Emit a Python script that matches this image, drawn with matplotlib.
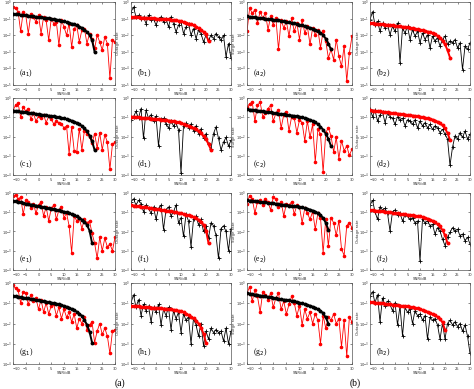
import numpy as np
import matplotlib
matplotlib.use("Agg")
import matplotlib.pyplot as plt
from matplotlib.ticker import LogLocator, LogFormatterMathtext, FixedLocator

# ---------------- data (log10 values) ----------------
snr = list(range(-10, 31))          # SNR/dB for the simulated (noisy) series
xticks = [-10, -5, 0, 5, 10, 15, 20, 25, 30]

# group (a), column 1: red noisy simulation + black theory
a1_sim = [-0.28,-0.38,-0.58,-1.77,-0.6,-0.8,-1.9,-0.7,-0.9,-1.2,-0.8,-1.9,-0.9,-1.1,-2.3,-1.0,-1.3,-1.2,-2.6,-1.1,
          -1.5,-2.0,-1.3,-2.7,-1.6,-1.4,-2.4,-1.7,-1.6,-2.5,-1.9,-2.2,-2.8,-2.0,-2.4,-2.9,-2.1,-2.5,-4.6,-2.3,-2.4]
a1_th = [-0.71,-0.73,-0.75,-0.77,-0.79,-0.81,-0.83,-0.85,-0.87,-0.89,-0.91,-0.93,-0.95,-0.97,-0.99,-1.01,-1.03,
         -1.06,-1.09,-1.13,-1.17,-1.21,-1.25,-1.30,-1.35,-1.41,-1.48,-1.56,-1.67,-1.80,-1.98,-2.30,-3.00]
c1_sim = [-0.65,-0.37,-0.28,-1.0,-0.45,-0.7,-0.55,-1.1,-0.8,-1.2,-0.95,-1.05,-0.87,-1.28,-0.95,-1.1,-1.35,-1.2,-1.28,
          -1.35,-1.55,-1.45,-2.9,-1.5,-2.75,-2.8,-1.6,-2.7,-1.7,-1.85,-2.0,-2.35,-1.85,-2.6,-1.8,-2.7,-1.9,-2.3,-3.7,
          -2.4,-2.3]
c1_th = [-0.65,-0.67,-0.69,-0.71,-0.72,-0.74,-0.76,-0.78,-0.80,-0.82,-0.84,-0.86,-0.88,-0.90,-0.92,-0.94,-0.96,
         -0.98,-1.00,-1.03,-1.06,-1.10,-1.14,-1.18,-1.23,-1.29,-1.36,-1.45,-1.57,-1.72,-1.95,-2.25,-2.70]
e1_sim = [-0.13,-0.1,-0.3,-0.22,-1.1,-0.38,-0.46,-0.8,-0.55,-1.05,-0.63,-0.46,-1.2,-0.72,-1.45,-0.8,-0.63,-1.37,
          -0.88,-0.72,-1.28,-1.05,-1.7,-3.1,-1.2,-1.45,-1.3,-1.85,-1.37,-1.55,-1.45,-2.1,-2.6,-3.4,-2.3,-3.0,-2.35,
          -2.8,-2.65,-3.0,-2.3]
e1_th = [-0.41,-0.44,-0.47,-0.49,-0.52,-0.55,-0.57,-0.60,-0.63,-0.65,-0.68,-0.71,-0.73,-0.76,-0.79,-0.81,-0.84,
         -0.87,-0.90,-0.93,-0.97,-1.01,-1.05,-1.10,-1.15,-1.21,-1.29,-1.38,-1.49,-1.66,-1.95,-2.60]
g1_sim = [-0.11,-0.27,-0.35,-0.98,-0.43,-0.5,-1.06,-0.58,-0.9,-0.74,-1.3,-0.82,-1.45,-0.98,-1.53,-1.13,-1.06,-1.61,
          -1.2,-1.76,-1.3,-1.69,-1.45,-1.92,-1.53,-2.23,-1.76,-2.0,-1.69,-2.3,-2.07,-1.92,-2.94,-2.38,-2.0,-2.54,
          -2.23,-2.62,-3.48,-2.38,-2.3]
g1_th = [-0.63,-0.65,-0.67,-0.70,-0.72,-0.74,-0.76,-0.79,-0.81,-0.83,-0.85,-0.88,-0.90,-0.92,-0.95,-0.97,-0.99,
         -1.02,-1.05,-1.09,-1.13,-1.17,-1.22,-1.28,-1.34,-1.42,-1.51,-1.63,-1.84,-2.05,-2.40,-2.94]

# group (a), column 2: black noisy simulation + red theory
b1_sim = [-0.6,-0.3,-0.9,-0.8,-1.0,-0.9,-1.3,-0.8,-1.1,-1.0,-1.4,-1.0,-0.9,-1.2,-1.0,-1.5,-0.9,-1.3,-1.8,-1.4,
          -1.2,-1.9,-1.5,-1.3,-2.0,-1.6,-2.2,-1.7,-1.9,-2.4,-2.0,-2.3,-2.0,-2.2,-1.9,-2.1,-2.3,-2.0,-3.3,-2.5,-3.4]
b1_th = [-0.90,-0.91,-0.92,-0.93,-0.94,-0.95,-0.96,-0.97,-0.98,-0.99,-1.00,-1.01,-1.02,-1.03,-1.04,-1.05,-1.06,
         -1.08,-1.10,-1.13,-1.17,-1.21,-1.25,-1.30,-1.35,-1.41,-1.48,-1.57,-1.67,-1.80,-1.95,-2.36]
d1_sim = [-1.15,-0.97,-0.7,-1.05,-0.55,-2.1,-0.63,-1.05,-0.87,-1.2,-0.95,-2.5,-1.1,-1.05,-1.35,-1.55,-1.2,-1.45,
          -1.3,-1.65,-3.9,-1.45,-1.3,-1.55,-1.35,-1.7,-1.45,-1.85,-1.6,-2.1,-1.85,-2.4,-2.65,-1.85,-1.5,-2.1,-2.7,
          -2.3,-2.05,-2.5,-2.2]
d1_th = [-0.97,-0.98,-0.99,-1.00,-1.02,-1.03,-1.04,-1.05,-1.07,-1.08,-1.09,-1.10,-1.12,-1.13,-1.15,-1.17,-1.19,
         -1.21,-1.23,-1.27,-1.31,-1.35,-1.40,-1.45,-1.50,-1.56,-1.63,-1.72,-1.83,-1.97,-2.15,-2.40,-2.70]
f1_sim = [-0.46,-0.3,-0.63,-0.38,-0.55,-0.97,-0.63,-0.8,-1.05,-0.72,-1.37,-0.8,-0.63,-1.9,-0.88,-0.72,-1.2,-0.97,
          -0.63,-1.55,-1.28,-2.25,-1.1,-1.45,-2.8,-1.37,-1.2,-1.65,-1.37,-2.0,-1.7,-2.35,-1.55,-1.7,-2.2,-3.4,-1.85,
          -1.7,-2.0,-3.0,-1.85]
f1_th = [-0.63,-0.65,-0.67,-0.69,-0.71,-0.73,-0.75,-0.77,-0.79,-0.81,-0.83,-0.85,-0.87,-0.89,-0.91,-0.93,-0.95,
         -0.98,-1.00,-1.03,-1.06,-1.09,-1.12,-1.16,-1.20,-1.25,-1.31,-1.39,-1.49,-1.65,-1.95,-2.60]
h1_sim = [-0.98,-0.58,-1.2,-0.82,-1.61,-1.06,-1.37,-1.13,-1.92,-1.2,-1.45,-1.06,-2.07,-1.3,-1.61,-1.2,-2.3,-1.37,
          -1.76,-1.45,-2.45,-1.53,-1.84,-1.69,-3.0,-1.76,-2.07,-2.62,-2.0,-3.1,-2.38,-2.77,-2.23,-2.45,-2.3,-2.45,
          -2.38,-2.86,-2.23,-3.0,-2.38]
h1_th = [-1.13,-1.14,-1.15,-1.16,-1.17,-1.18,-1.19,-1.20,-1.21,-1.22,-1.23,-1.24,-1.25,-1.26,-1.27,-1.28,-1.30,
         -1.32,-1.34,-1.37,-1.40,-1.45,-1.51,-1.58,-1.66,-1.75,-1.86,-2.00,-2.20,-2.50,-2.94]

# group (b), column 3: red noisy simulation + black theory
a2_sim = [-1.77,-0.38,-0.67,-0.48,-1.27,-0.58,-0.97,-0.67,-1.67,-0.87,-1.37,-0.97,-2.86,-1.07,-1.57,-1.17,-2.06,
          -0.97,-1.77,-1.27,-2.26,-1.07,-1.87,-1.47,-2.56,-1.57,-1.97,-1.67,-2.76,-1.77,-2.36,-3.37,-2.86,-3.47,
          -2.26,-3.27,-3.87,-2.66,-4.76,-3.07,-2.06]
a2_th = [-0.87,-0.89,-0.91,-0.93,-0.95,-0.97,-0.99,-1.01,-1.03,-1.05,-1.07,-1.09,-1.11,-1.14,-1.17,-1.20,-1.23,
         -1.26,-1.29,-1.33,-1.37,-1.41,-1.45,-1.50,-1.55,-1.61,-1.68,-1.76,-1.86,-2.00,-2.20,-2.50,-2.86]
c2_sim = [-0.46,-0.3,-0.22,-1.2,-0.38,-0.22,-0.97,-0.8,-0.55,-0.38,-1.2,-0.8,-0.63,-1.55,-0.88,-0.72,-1.72,-0.97,
          -1.05,-1.8,-1.13,-1.28,-2.22,-1.2,-2.05,-1.37,-3.33,-1.63,-1.88,-3.85,-1.8,-1.55,-1.97,-2.8,-2.05,-3.15,
          -2.22,-2.73,-2.5,-2.98,-2.65]
c2_th = [-0.58,-0.60,-0.62,-0.63,-0.65,-0.67,-0.69,-0.71,-0.73,-0.75,-0.77,-0.79,-0.81,-0.83,-0.85,-0.87,-0.89,
         -0.91,-0.93,-0.95,-0.97,-1.00,-1.04,-1.08,-1.13,-1.19,-1.26,-1.36,-1.49,-1.65,-1.85,-2.12,-2.50]
e2_sim = [-0.55,-0.13,-0.3,-1.05,-0.46,-0.38,-0.63,-0.3,-0.46,-0.88,-0.22,-0.3,-0.72,-0.46,-1.2,-0.55,-0.63,-0.46,
          -1.1,-0.63,-0.72,-1.55,-0.8,-1.05,-1.37,-0.97,-1.88,-1.05,-1.28,-3.1,-1.37,-2.75,-1.28,-1.55,-2.2,-1.45,
          -2.9,-3.25,-1.7,-1.55,-1.8]
e2_th = [-0.37,-0.39,-0.40,-0.42,-0.44,-0.46,-0.47,-0.49,-0.51,-0.53,-0.54,-0.56,-0.58,-0.60,-0.61,-0.63,-0.65,
         -0.66,-0.68,-0.70,-0.72,-0.75,-0.78,-0.82,-0.86,-0.91,-0.97,-1.04,-1.14,-1.30,-1.55,-1.90]
g2_sim = [-0.5,-0.19,-0.9,-0.35,-0.66,-1.45,-0.43,-0.58,-0.82,-0.5,-1.2,-0.74,-0.5,-1.3,-0.9,-1.53,-1.06,-0.66,
          -0.98,-1.61,-1.13,-2.07,-1.3,-1.76,-1.45,-2.0,-1.53,-1.84,-3.0,-1.61,-2.23,-1.69,-1.84,-1.53,-2.0,-1.76,
          -3.15,-1.84,-3.62,-1.69,-1.92]
g2_th = [-0.50,-0.52,-0.55,-0.57,-0.59,-0.62,-0.64,-0.66,-0.69,-0.71,-0.73,-0.75,-0.78,-0.80,-0.82,-0.84,-0.86,
         -0.88,-0.90,-0.93,-0.97,-1.00,-1.04,-1.08,-1.12,-1.17,-1.23,-1.29,-1.37,-1.50,-1.70,-2.00]

# group (b), column 4: black noisy simulation + red theory
b2_sim = [-1.07,-0.58,-1.37,-1.17,-1.77,-1.27,-1.57,-1.37,-1.97,-1.47,-1.77,-1.27,-3.67,-1.57,-1.87,-1.47,-2.26,
          -1.67,-2.06,-1.77,-2.46,-1.87,-2.26,-1.97,-2.76,-2.06,-2.36,-2.16,-2.66,-2.26,-2.06,-2.56,-2.36,-2.46,
          -2.26,-2.76,-2.46,-4.07,-2.66,-2.86,-2.46]
b2_th = [-1.27,-1.28,-1.30,-1.31,-1.33,-1.34,-1.36,-1.37,-1.39,-1.41,-1.43,-1.45,-1.47,-1.49,-1.51,-1.53,-1.55,
         -1.58,-1.61,-1.64,-1.67,-1.70,-1.74,-1.78,-1.83,-1.88,-1.94,-2.04,-2.16,-2.32,-2.55,-2.90,-3.35]
d2_sim = [-0.55,-0.97,-0.63,-1.2,-0.88,-0.72,-1.28,-0.8,-0.97,-1.05,-1.37,-0.97,-1.13,-1.05,-1.45,-1.13,-1.2,-1.37,
          -1.13,-1.55,-1.2,-1.45,-1.28,-1.55,-1.37,-1.63,-1.45,-1.55,-1.8,-1.63,-1.88,-2.13,-3.5,-2.56,-1.97,-2.13,
          -1.8,-2.05,-1.72,-2.13,-1.88]
d2_th = [-0.63,-0.65,-0.66,-0.68,-0.70,-0.71,-0.73,-0.75,-0.76,-0.78,-0.80,-0.81,-0.83,-0.85,-0.86,-0.88,-0.90,
         -0.91,-0.93,-0.95,-0.97,-0.99,-1.02,-1.05,-1.08,-1.12,-1.17,-1.23,-1.31,-1.42,-1.58,-1.82,-2.17]
f2_sim = [-0.63,-0.38,-0.97,-1.37,-0.72,-0.88,-0.8,-1.05,-1.97,-0.97,-0.88,-1.13,-1.05,-1.45,-1.13,-1.22,-1.37,
          -1.28,-1.55,-1.45,-3.55,-1.37,-1.55,-1.45,-1.7,-1.63,-2.13,-1.8,-1.97,-2.4,-2.73,-2.3,-2.05,-1.8,-1.97,
          -1.88,-2.22,-2.13,-2.48,-2.3,-2.65]
f2_th = [-0.88,-0.89,-0.91,-0.93,-0.94,-0.96,-0.98,-0.99,-1.01,-1.03,-1.04,-1.06,-1.08,-1.09,-1.11,-1.13,-1.14,
         -1.16,-1.18,-1.20,-1.22,-1.25,-1.29,-1.33,-1.38,-1.44,-1.52,-1.62,-1.74,-1.93,-2.20,-2.60]
h2_sim = [-0.66,-0.43,-0.98,-0.58,-1.92,-0.74,-1.13,-0.9,-1.06,-1.37,-0.98,-2.07,-1.13,-2.62,-1.2,-1.45,-1.3,-2.0,
          -1.37,-1.61,-1.53,-1.84,-1.61,-2.77,-1.69,-1.84,-1.76,-2.07,-2.77,-2.0,-2.77,-2.0,-1.84,-2.07,-1.92,-2.15,
          -2.0,-2.38,-2.07,-2.62,-3.48]
h2_th = [-0.94,-0.95,-0.97,-0.98,-1.00,-1.01,-1.03,-1.04,-1.06,-1.07,-1.09,-1.10,-1.12,-1.13,-1.15,-1.16,-1.18,
         -1.20,-1.22,-1.25,-1.29,-1.33,-1.37,-1.42,-1.47,-1.53,-1.60,-1.67,-1.76,-1.95,-2.31]

labels = [["(a$_1$)", "(b$_1$)", "(a$_2$)", "(b$_2$)"],
          ["(c$_1$)", "(d$_1$)", "(c$_2$)", "(d$_2$)"],
          ["(e$_1$)", "(f$_1$)", "(e$_2$)", "(f$_2$)"],
          ["(g$_1$)", "(h$_1$)", "(g$_2$)", "(h$_2$)"]]
ylabels = ["BER/ SER", "Outage rate", "Surge rate", "Outage rate"]
sims = [[a1_sim, b1_sim, a2_sim, b2_sim], [c1_sim, d1_sim, c2_sim, d2_sim],
        [e1_sim, f1_sim, e2_sim, f2_sim], [g1_sim, h1_sim, g2_sim, h2_sim]]
ths = [[a1_th, b1_th, a2_th, b2_th], [c1_th, d1_th, c2_th, d2_th],
       [e1_th, f1_th, e2_th, f2_th], [g1_th, h1_th, g2_th, h2_th]]
ydecades = [5, 4, 4, 4]

# ---------------- layout ----------------
W, H = 474, 389
fig = plt.figure(figsize=(W / 100, H / 100), dpi=100)
fig.patch.set_facecolor("white")
cols = [(13, 115), (131, 231), (247, 352), (370, 470)]
rows = [(2, 85), (98, 175), (193, 270), (283, 364)]

frame = "#555555"
for r, (yt, yb) in enumerate(rows):
    for c, (xl, xr) in enumerate(cols):
        ax = fig.add_axes([xl / W, 1 - yb / H, (xr - xl) / W, (yb - yt) / H])
        sim = 10.0 ** np.array(sims[r][c])
        thv = 10.0 ** np.array(ths[r][c])
        xth = snr[:len(thv)]
        if c % 2 == 0:
            ax.plot(snr, sim, color="red", lw=0.6, marker="o", ms=1.6, mec="red", mfc="red", zorder=2)
            ax.plot(xth, thv, color="black", lw=1.4, marker="o", ms=1.8, mec="black", mfc="black", zorder=3)
        else:
            ax.plot(snr, sim, color="black", lw=0.6, marker="+", ms=2.6, mew=0.6, zorder=2)
            ax.plot(xth, thv, color="red", lw=1.4, marker="o", ms=1.8, mec="red", mfc="red", zorder=3)
        ax.set_yscale("log")
        ax.set_xlim(-10, 30)
        ax.set_ylim(10.0 ** (-ydecades[r]), 1.0)
        ax.xaxis.set_major_locator(FixedLocator(xticks))
        ax.yaxis.set_major_locator(LogLocator(base=10, numticks=10))
        ax.yaxis.set_minor_locator(FixedLocator([]))
        ax.yaxis.set_major_formatter(LogFormatterMathtext())
        ax.tick_params(axis="both", which="major", direction="in", length=1.5, width=0.4,
                       labelsize=2.6, pad=0.6, top=True, right=True, colors="#333333")
        ax.tick_params(axis="x", pad=2.0)
        for s in ax.spines.values():
            s.set_linewidth(0.5)
            s.set_color(frame)
        ax.set_xlabel("SNR/dB", fontsize=2.8, labelpad=0.2, color="#333333")
        ax.set_ylabel(ylabels[c], fontsize=2.8, color="#333333")
        ax.yaxis.set_label_coords(-10.5 / (xr - xl), 0.5)
        ax.text(0.06, 0.07, labels[r][c], transform=ax.transAxes, fontsize=5.5,
                family="Liberation Serif", ha="left", va="bottom")
        fig.canvas.draw()
        ax.get_xticklabels()[0].set_horizontalalignment("left")

fig.text(120 / W, 1 - 383 / H, "(a)", fontsize=7, family="Liberation Serif", ha="center", va="center")
fig.text(355 / W, 1 - 383 / H, "(b)", fontsize=7, family="Liberation Serif", ha="center", va="center")

fig.savefig("out.png", dpi=100, facecolor="white")
